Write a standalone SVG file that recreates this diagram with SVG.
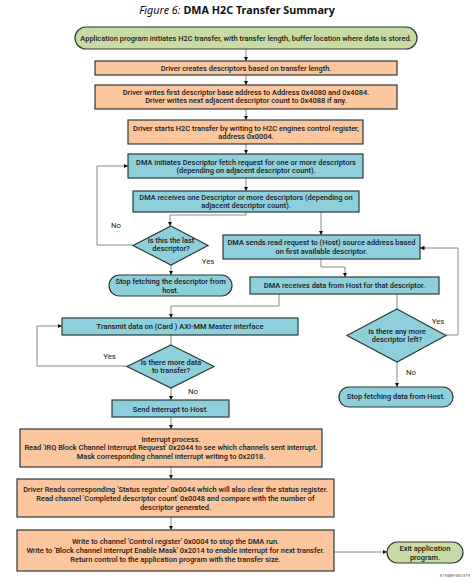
<svg xmlns="http://www.w3.org/2000/svg" width="474" height="583" viewBox="0 0 474 583">
<defs>
<marker id="ah" viewBox="0 0 6 6" refX="6" refY="3" markerWidth="4.5" markerHeight="4.5" orient="auto" markerUnits="userSpaceOnUse">
<path d="M0,0 L6,3 L0,6 z" fill="#111"/>
</marker>
<style>
.g{fill:#c8dba4;stroke:#2b3a37;stroke-width:1.2}
.o{fill:#fbc59d;stroke:#2b3a37;stroke-width:1.2}
.b{fill:#8ecfdc;stroke:#2b3a37;stroke-width:1.2}
.t{font-family:Roboto,"Liberation Sans",sans-serif;font-size:7.45px;font-weight:500;fill:#1a1a1a;text-anchor:middle}
.l{font-family:Roboto,"Liberation Sans",sans-serif;font-size:7.8px;fill:#1a1a1a;text-anchor:middle}
.c{fill:none;stroke:#7a7a7a;stroke-width:0.9}
.a{marker-end:url(#ah)}
</style>
</defs>
<rect width="474" height="583" fill="#fff"/>
<text x="237" y="14" text-anchor="middle" font-family="'Noto Sans','Open Sans',sans-serif" font-size="10.8" fill="#111"><tspan font-style="italic">Figure 6: </tspan><tspan font-weight="bold">DMA H2C Transfer Summary</tspan></text>

<g id="connectors">
<path class="c a" d="M246,49 V61"/>
<path class="c a" d="M246,75 V85"/>
<path class="c a" d="M246,109 V120"/>
<path class="c a" d="M246,144 V154"/>
<path class="c a" d="M246,178 V191"/>
<path class="c a" d="M246,212 V215 H170 V226"/>
<path class="c a" d="M321,212 V235"/>
<path class="c a" d="M133,245 H97 V166 H128"/>
<path class="c a" d="M171,265 V275"/>
<path class="c a" d="M321,259 V267 H345 V277"/>
<path class="c a" d="M279,294 V306 H171 V318"/>
<path class="c" d="M397,294 V309"/>
<path class="c a" d="M446,335 H458 V248 H420"/>
<path class="c a" d="M397,362 V387"/>
<path class="c" d="M171,335 V345"/>
<path class="c a" d="M127,366 H37 V326 H62"/>
<path class="c a" d="M171,388 V400"/>
<path class="c a" d="M171,417 V429"/>
<path class="c a" d="M171,467 V479"/>
<path class="c a" d="M171,517 V530"/>
<path class="c a" d="M334,552 H387"/>
<text class="l" x="116" y="228">No</text>
<text class="l" x="208" y="263.5">Yes</text>
<text class="l" x="438" y="324">Yes</text>
<text class="l" x="411" y="375">No</text>
<text class="l" x="109.5" y="359">Yes</text>
<text class="l" x="193" y="394">No</text>
</g>

<g id="n1"><rect class="g" x="75" y="27" width="342" height="22" rx="11"/>
<text class="t" x="246" y="40.6">Application program initiates H2C transfer, with transfer length, buffer location where data is stored.</text></g>

<g id="n2"><rect class="o" x="95" y="61" width="302" height="14"/>
<text class="t" x="246" y="70.7">Driver creates descriptors based on transfer length.</text></g>

<g id="n3"><rect class="o" x="95" y="85" width="302" height="24"/>
<text class="t" x="246" y="94.9">Driver writes first descriptor base address to Address 0x4080 and 0x4084.</text>
<text class="t" x="246" y="102.9">Driver writes next adjacent descriptor count to 0x4088 if any.</text></g>

<g id="n4"><rect class="o" x="128" y="120" width="235" height="24"/>
<text class="t" x="246" y="130.8">Driver starts H2C transfer by writing to H2C engines control register,</text>
<text class="t" x="246" y="138.8">address 0x0004.</text></g>

<g id="n5"><rect class="b" x="128" y="154" width="235" height="24"/>
<text class="t" x="246" y="164.8">DMA initiates Descriptor fetch request for one or more descriptors</text>
<text class="t" x="246" y="173.1">(depending on adjacent descriptor count).</text></g>

<g id="n6"><rect class="b" x="133" y="191" width="226" height="21"/>
<text class="t" x="246" y="200">DMA receives one Descriptor or more descriptors (depending on</text>
<text class="t" x="246" y="208.2">adjacent descriptor count).</text></g>

<g id="d1"><polygon class="b" points="171,226 208,245.5 171,265 133,245.5"/>
<text class="t" x="171" y="243.3">Is this the last</text>
<text class="t" x="171" y="251.4">descriptor?</text></g>

<g id="n7"><rect class="b" x="109" y="275" width="123" height="21" rx="10.5"/>
<text class="t" x="170.5" y="283.8">Stop fetching the descriptor from</text>
<text class="t" x="170.5" y="292.5">host.</text></g>

<g id="n8"><rect class="b" x="223" y="235" width="197" height="24"/>
<text class="t" x="321.5" y="245.3">DMA sends read request to (Host) source address based</text>
<text class="t" x="321.5" y="253.6">on first available descriptor.</text></g>

<g id="n9"><rect class="b" x="250" y="277" width="189" height="17"/>
<text class="t" x="344.5" y="287.9">DMA receives data from Host for that descriptor.</text></g>

<g id="n10"><rect class="b" x="62" y="318" width="236" height="17"/>
<text class="t" x="180" y="328.8">Transmit data on (Card ) AXI-MM Master interface</text></g>

<g id="d2"><polygon class="b" points="397,309 446,335.5 397,362 347,335.5"/>
<text class="t" x="397" y="333.8">Is there any more</text>
<text class="t" x="397" y="342.1">descriptor left?</text></g>

<g id="n11"><rect class="b" x="339" y="387" width="114" height="20" rx="10"/>
<text class="t" x="396" y="399.3">Stop fetching data from Host.</text></g>

<g id="d3"><polygon class="b" points="171,345 214,366.5 171,388 127,366.5"/>
<text class="t" x="171" y="365">Is there more data</text>
<text class="t" x="171" y="373.1">to transfer?</text></g>

<g id="n12"><rect class="b" x="112" y="400" width="117" height="17"/>
<text class="t" x="170.5" y="411.5">Send interrupt to Host.</text></g>

<g id="n13"><rect class="o" x="20" y="429" width="302" height="38"/>
<text class="t" x="171" y="441.6">Interrupt process.</text>
<text class="t" x="171" y="450.4">Read 'IRQ Block Channel Interrupt Request' 0x2044 to see which channels sent interrupt.</text>
<text class="t" x="171" y="459.2">Mask corresponding channel interrupt writing to 0x2018.</text></g>

<g id="n14"><rect class="o" x="17" y="479" width="317" height="38"/>
<text class="t" x="175.5" y="491.6">Driver Reads corresponding 'Status register' 0x0044 which will also clear the status register.</text>
<text class="t" x="175.5" y="500.7">Read channel 'Completed descriptor count' 0x0048 and compare with the number of</text>
<text class="t" x="175.5" y="509.8">descriptor generated.</text></g>

<g id="n15"><rect class="o" x="17" y="530" width="317" height="41"/>
<text class="t" x="175.5" y="543.6">Write to channel 'Control register' 0x0004 to stop the DMA run.</text>
<text class="t" x="175.5" y="552.6">Write to 'Block channel interrupt Enable Mask' 0x2014 to enable interrupt for next transfer.</text>
<text class="t" x="175.5" y="561.6">Return control to the application program with the transfer size.</text></g>

<g id="n16"><rect class="g" x="387" y="542" width="76" height="21" rx="10.5"/>
<text class="t" x="425" y="550.9">Exit application</text>
<text class="t" x="425" y="559.9">program.</text></g>

<text x="470" y="577" text-anchor="end" font-family="Roboto,'Liberation Sans',sans-serif" font-size="4.3" fill="#444">X19389-061319</text>
</svg>
